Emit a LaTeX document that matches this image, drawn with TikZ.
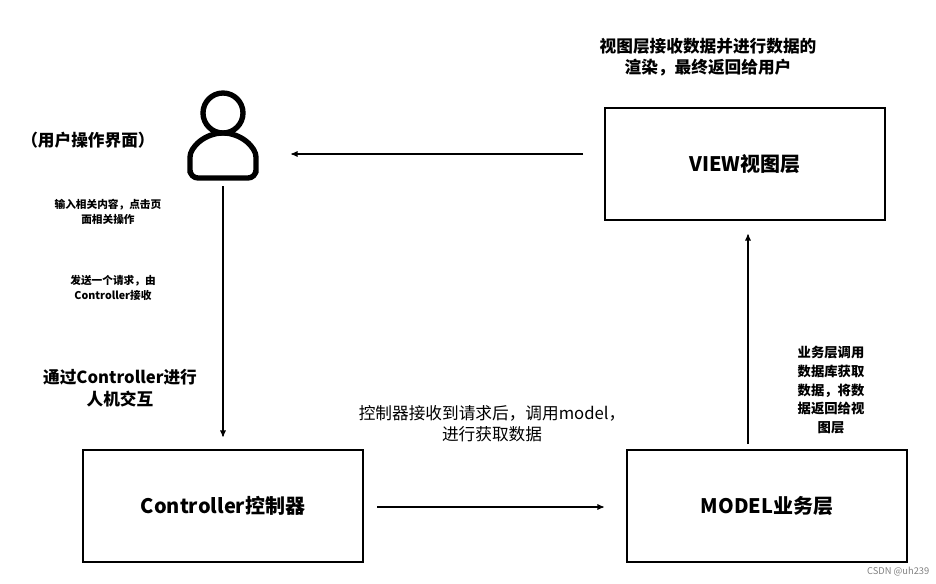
\documentclass[tikz,border=0pt]{standalone}
\usepackage{fontspec}
\setmainfont{Noto Sans CJK SC}
\usetikzlibrary{arrows,positioning}
\tikzset{>=stealth',
	layer/.style={draw, line width=1pt, minimum width=210pt, minimum height=84pt, font=\bfseries\fontsize{15}{18}\selectfont},
	flow/.style={->, line width=0.8pt, shorten >=1pt},
	note/.style={align=center, font=\bfseries\fontsize{8}{11}\selectfont},
	bignote/.style={align=center, font=\bfseries\fontsize{12.5}{16}\selectfont}}
\begin{document}
\begin{tikzpicture}[x=0.75pt, y=-0.75pt]
	\useasboundingbox (0,0) rectangle (936,583);
	\node[layer] (view) at (745,164) {VIEW视图层};
	\node[layer] (ctrl) at (223,506) {Controller控制器};
	\node[layer] (model) at (767,506) {MODEL业务层};
	% user icon
	\draw[line width=4pt] (223,113) circle (20);
	\draw[line width=4pt, rounded corners=6pt] (190,178) -- (190,165) arc (180:360:33 and 32) -- (256,178) -- cycle;
	\coordinate (userR) at (290,154);
	\coordinate (userB) at (223,186);
	\node[bignote] (ui) at (88,140) {（用户操作界面）};
	\draw[flow] (583,154) -- (userR);
	\draw[flow] (userB) -- (ctrl.north |- 0,438);
	\draw[flow] (377,507) -- (605,507);
	\draw[flow] (748,444) -- (748,233);
	\node[note] (n1) at (108,212) {输入相关内容，点击页\\面相关操作};
	\node[note] (n2) at (113,288) {发送一个请求，由\\Controller接收};
	\node[bignote] (n3) at (120,388) {通过Controller进行\\人机交互};
	\node[align=center, font=\fontsize{12.5}{16}\selectfont] (n4) at (492,424) {控制器接收到请求后，调用model，\\进行获取数据};
	\node[note, font=\bfseries\fontsize{10}{14}\selectfont] (n5) at (831,390) {业务层调用\\数据库获取\\数据，将数\\据返回给视\\图层};
	\node[bignote] (n6) at (708,57) {视图层接收数据并进行数据的\\渲染，最终返回给用户};
	\node[text=gray, font=\fontsize{7}{8}\selectfont, anchor=south east] (mark) at (934,581) {CSDN @uh239};
\end{tikzpicture}
\end{document}
